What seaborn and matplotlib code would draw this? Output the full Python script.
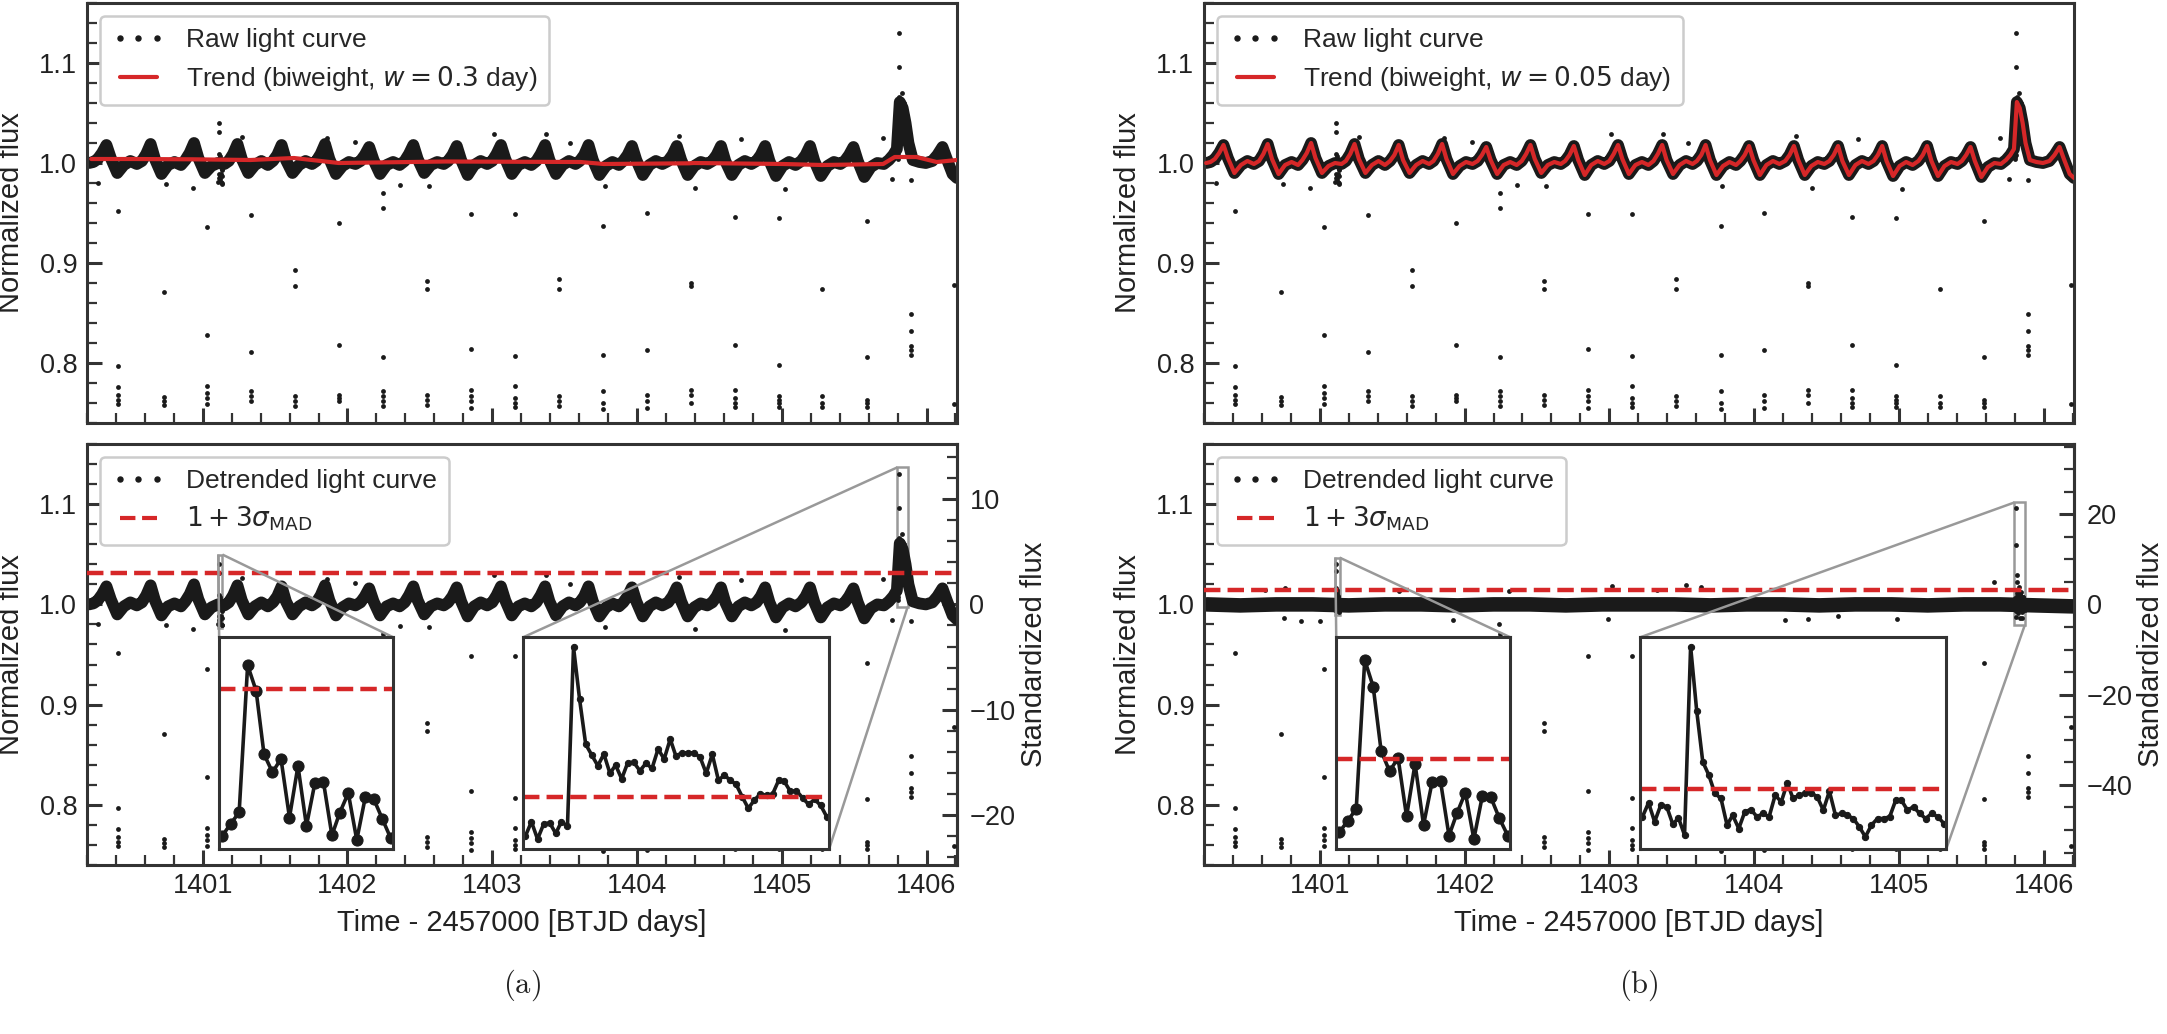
import matplotlib
matplotlib.use("Agg")
import matplotlib.pyplot as plt
from matplotlib.ticker import MultipleLocator
from matplotlib.lines import Line2D
from mpl_toolkits.axes_grid1.inset_locator import mark_inset
import seaborn as sns

# ---- raw light curve, band centre (read per modulation cycle) ----
band_t = [
    1400.215, 1400.245, 1400.275, 1400.305, 1400.335, 1400.365, 1400.410, 1400.455, 1400.500, 1400.545,
    1400.580, 1400.610, 1400.640, 1400.670, 1400.715, 1400.760, 1400.805, 1400.850,
    1400.880, 1400.910, 1400.940, 1400.970, 1401.015, 1401.060, 1401.105, 1401.150,
    1401.180, 1401.210, 1401.240, 1401.270, 1401.315, 1401.360, 1401.405, 1401.450,
    1401.485, 1401.515, 1401.545, 1401.575, 1401.620, 1401.665, 1401.710, 1401.755,
    1401.785, 1401.815, 1401.845, 1401.875, 1401.920, 1401.965, 1402.010, 1402.055,
    1402.090, 1402.120, 1402.150, 1402.180, 1402.225, 1402.270, 1402.315, 1402.360,
    1402.395, 1402.425, 1402.455, 1402.485, 1402.530, 1402.575, 1402.620, 1402.665,
    1402.695, 1402.725, 1402.755, 1402.785, 1402.830, 1402.875, 1402.920, 1402.965,
    1403.000, 1403.030, 1403.060, 1403.090, 1403.135, 1403.180, 1403.225, 1403.270,
    1403.305, 1403.335, 1403.365, 1403.395, 1403.440, 1403.485, 1403.530, 1403.575,
    1403.605, 1403.635, 1403.665, 1403.695, 1403.740, 1403.785, 1403.830, 1403.875,
    1403.905, 1403.935, 1403.965, 1403.995, 1404.040, 1404.085, 1404.130, 1404.175,
    1404.215, 1404.245, 1404.275, 1404.305, 1404.350, 1404.395, 1404.440, 1404.485,
    1404.520, 1404.550, 1404.580, 1404.610, 1404.655, 1404.700, 1404.745, 1404.790,
    1404.825, 1404.855, 1404.885, 1404.915, 1404.960, 1405.005, 1405.050, 1405.095,
    1405.135, 1405.165, 1405.195, 1405.225, 1405.270, 1405.315, 1405.360, 1405.405,
    1405.435, 1405.465, 1405.495, 1405.525, 1405.570, 1405.615, 1405.660, 1405.705,
    1405.740, 1405.770, 1405.795, 1405.815, 1405.835, 1405.855, 1405.875, 1405.905, 1405.950, 1405.995,
    1406.040, 1406.075, 1406.110, 1406.140, 1406.180, 1406.210,
]
band_f = [
    1.000, 1.001, 1.004, 1.010, 1.018, 1.005, 0.990, 0.998, 1.002, 0.999,
    1.002, 1.009, 1.019, 1.004, 0.989, 0.998, 1.001, 0.998,
    1.003, 1.010, 1.020, 1.005, 0.990, 0.997, 1.000, 0.999,
    1.002, 1.009, 1.019, 1.004, 0.990, 0.998, 1.002, 0.998,
    1.002, 1.008, 1.018, 1.003, 0.990, 0.998, 1.002, 0.999,
    1.002, 1.009, 1.019, 1.004, 0.989, 0.997, 1.001, 0.999,
    1.002, 1.008, 1.016, 1.003, 0.989, 0.998, 1.001, 0.998,
    1.002, 1.009, 1.018, 1.004, 0.990, 0.998, 1.001, 0.999,
    1.002, 1.008, 1.017, 1.003, 0.988, 0.998, 1.002, 0.999,
    1.002, 1.009, 1.018, 1.004, 0.989, 0.998, 1.001, 0.998,
    1.002, 1.009, 1.018, 1.003, 0.989, 0.998, 1.002, 0.999,
    1.002, 1.008, 1.018, 1.003, 0.988, 0.997, 1.001, 0.998,
    1.002, 1.008, 1.017, 1.003, 0.988, 0.998, 1.002, 0.999,
    1.002, 1.008, 1.017, 1.003, 0.988, 0.997, 1.001, 0.999,
    1.002, 1.008, 1.017, 1.002, 0.988, 0.998, 1.002, 0.999,
    1.002, 1.008, 1.017, 1.002, 0.987, 0.997, 1.001, 0.998,
    1.002, 1.008, 1.017, 1.002, 0.987, 0.997, 1.001, 0.999,
    1.002, 1.008, 1.016, 1.002, 0.986, 0.996, 1.000, 0.999,
    1.003, 1.008, 1.014, 1.061, 1.055, 1.040, 1.020, 1.003, 1.001, 1.000,
    1.002, 1.008, 1.016, 1.004, 0.989, 0.985,
]

# scattered single points off the band
raw_out_t = [1400.28, 1400.745, 1400.93, 1401.27, 1401.86, 1402.05, 1402.36, 1402.56, 1403.01, 1403.37,
             1403.54, 1403.78, 1404.29, 1404.40, 1404.72, 1405.02, 1405.70, 1405.76, 1405.89]
raw_out_f = [0.980, 0.979, 0.975, 1.026, 1.025, 1.021, 0.978, 0.977, 1.029, 1.029,
             1.020, 0.977, 1.027, 0.975, 1.024, 0.974, 1.025, 0.984, 0.983]

# low-flux columns (one list of fluxes per time)
dip_t = [1400.417, 1400.731, 1401.031, 1401.333, 1401.635, 1401.940, 1402.242, 1402.550, 1402.852, 1403.157,
         1403.460, 1403.768, 1404.067, 1404.371, 1404.675, 1404.981, 1405.281, 1405.587, 1405.895, 1406.190]
dip_f = [
    [0.952, 0.797, 0.776, 0.768, 0.763, 0.759],
    [0.871, 0.766, 0.762, 0.758],
    [0.936, 0.828, 0.777, 0.770, 0.765, 0.759],
    [0.948, 0.811, 0.772, 0.767, 0.762],
    [0.893, 0.877, 0.767, 0.762, 0.757],
    [0.940, 0.818, 0.768, 0.765, 0.762],
    [0.970, 0.955, 0.806, 0.772, 0.767, 0.762, 0.757],
    [0.882, 0.874, 0.768, 0.763, 0.758],
    [0.949, 0.814, 0.773, 0.767, 0.762, 0.755],
    [0.949, 0.807, 0.777, 0.765, 0.760, 0.756],
    [0.884, 0.874, 0.767, 0.762, 0.757],
    [0.937, 0.808, 0.772, 0.760, 0.754],
    [0.950, 0.813, 0.768, 0.762, 0.755],
    [0.880, 0.877, 0.773, 0.768, 0.760],
    [0.946, 0.818, 0.773, 0.765, 0.760, 0.756],
    [0.945, 0.798, 0.767, 0.763, 0.760, 0.756],
    [0.874, 0.767, 0.760, 0.756],
    [0.942, 0.806, 0.763, 0.760, 0.756],
    [0.849, 0.832, 0.817, 0.813, 0.808],
    [0.878, 0.759],
]

# biweight trend, w = 0.3 day
trend03_t = [1400.23, 1400.52, 1400.93, 1401.33, 1401.63, 1401.94, 1402.68, 1403.61, 1403.77,
             1404.36, 1404.39, 1405.01, 1405.28, 1405.70, 1405.78, 1405.93, 1406.07, 1406.21]
trend03_f = [1.004, 1.004, 1.0037, 1.003, 1.005, 1.000, 1.0015, 1.001, 0.999,
             0.9997, 1.000, 0.999, 0.998, 0.999, 1.006, 1.006, 1.001, 1.003]

# detrended (w = 0.05 day) band and its stray points
flat_t = [1400.22, 1400.45, 1400.70, 1400.95, 1401.20, 1401.45, 1401.70, 1401.95, 1402.20, 1402.45,
          1402.70, 1402.95, 1403.20, 1403.45, 1403.70, 1403.95, 1404.20, 1404.45, 1404.70, 1404.95,
          1405.20, 1405.45, 1405.70, 1405.95, 1406.21]
flat_f = [1.000, 0.999, 1.000, 1.000, 0.999, 1.000, 1.000, 0.999, 1.000, 1.000,
          0.999, 1.000, 1.000, 1.000, 0.999, 1.000, 1.000, 0.999, 1.000, 1.000,
          0.999, 1.000, 1.000, 0.999, 0.998]
flat_out_t = [1400.62, 1400.75, 1400.76, 1400.87, 1401.00, 1401.55, 1401.92, 1402.24, 1402.31, 1402.99,
              1403.02, 1403.33, 1403.53, 1403.63, 1404.21, 1404.37, 1404.58, 1404.99, 1405.66, 1405.84]
flat_out_f = [1.014, 0.986, 1.016, 0.983, 0.983, 1.013, 0.984, 0.980, 1.013, 0.985,
              1.018, 1.014, 1.019, 1.017, 0.984, 0.985, 0.988, 0.985, 1.022, 0.986]

# zoomed flares (2-min cadence)
flare1_t = [1401.1080, 1401.1094, 1401.1108, 1401.1122, 1401.1136, 1401.1149, 1401.1163, 1401.1177,
            1401.1191, 1401.1205, 1401.1219, 1401.1233, 1401.1247, 1401.1261, 1401.1274, 1401.1288,
            1401.1302, 1401.1316, 1401.1330, 1401.1344, 1401.1358]
flare1_a = [0.9807, 0.9849, 0.9889, 1.0400, 1.0311, 1.0091, 1.0028, 1.0075, 0.9871, 1.0050, 0.9842,
            0.9992, 0.9995, 0.9809, 0.9888, 0.9956, 0.9793, 0.9941, 0.9935, 0.9867, 0.9799]
flare1_b = [0.9943, 0.9974, 1.0006, 1.0406, 1.0334, 1.0162, 1.0107, 1.0143, 0.9986, 1.0127, 0.9963,
            1.0077, 1.0080, 0.9934, 0.9994, 1.0050, 0.9925, 1.0041, 1.0037, 0.9981, 0.9934]

flare2_t = [1405.7990, 1405.8004, 1405.8018, 1405.8032, 1405.8046, 1405.8060, 1405.8073, 1405.8087,
            1405.8101, 1405.8115, 1405.8129, 1405.8143, 1405.8157, 1405.8171, 1405.8185, 1405.8198,
            1405.8212, 1405.8226, 1405.8240, 1405.8254, 1405.8268, 1405.8282, 1405.8296, 1405.8310,
            1405.8324, 1405.8337, 1405.8351, 1405.8365, 1405.8379, 1405.8393, 1405.8407, 1405.8421,
            1405.8435, 1405.8449, 1405.8462, 1405.8476, 1405.8490, 1405.8504, 1405.8518, 1405.8532,
            1405.8546, 1405.8560, 1405.8574, 1405.8587, 1405.8601, 1405.8615, 1405.8629, 1405.8643,
            1405.8657, 1405.8671, 1405.8685]
flare2_a = [1.0061, 1.0155, 1.0041, 1.0139, 1.0148, 1.0078, 1.0155, 1.0126, 1.1301, 1.0959,
            1.0665, 1.0593, 1.0523, 1.0600, 1.0473, 1.0527, 1.0437, 1.0543, 1.0545, 1.0490,
            1.0539, 1.0506, 1.0633, 1.0567, 1.0698, 1.0587, 1.0608, 1.0608, 1.0608, 1.0578,
            1.0473, 1.0598, 1.0429, 1.0460, 1.0429, 1.0400, 1.0319, 1.0243, 1.0297, 1.0339,
            1.0328, 1.0337, 1.0427, 1.0420, 1.0354, 1.0359, 1.0312, 1.0269, 1.0302, 1.0262, 1.0187]
flare2_b = [0.9979, 1.0060, 0.9950, 1.0046, 1.0037, 0.9935, 0.9973, 0.9873, 1.0963, 1.0592,
            1.0297, 1.0220, 1.0114, 1.0085, 0.9931, 0.9988, 0.9911, 1.0008, 1.0021, 0.9979,
            0.9998, 0.9979, 1.0104, 1.0065, 1.0175, 1.0085, 1.0104, 1.0114, 1.0118, 1.0094,
            1.0017, 1.0127, 0.9988, 0.9998, 0.9988, 0.9969, 0.9921, 0.9863, 0.9931, 0.9969,
            0.9969, 0.9979, 1.0075, 1.0075, 1.0017, 1.0037, 0.9998, 0.9969, 0.9998, 0.9979, 0.9940]

sigma_a, thr_a = 0.0105, 1.0317
sigma_b, thr_b = 0.0045, 1.0141
inset1_xlim = (1401.1075, 1401.1362)
inset2_xlim = (1405.7985, 1405.8690)
inset_ylims = {"a": [(0.976, 1.0497), (0.9973, 1.1367)], "b": [(0.9897, 1.0467), (0.979, 1.1017)]}

dips_t = [t for t, col in zip(dip_t, dip_f) for _ in col]
dips_f = [f for col in dip_f for f in col]

# ---- style ----
sns.set_theme(style="ticks")
plt.rcParams["font.family"] = ["Liberation Sans", "DejaVu Sans"]
plt.rcParams["mathtext.fontset"] = "dejavusans"
SPINE = "#333333"
RED = "#d62728"
TICK_FS, LABEL_FS, LEG_FS = 19.5, 21, 19

fig = plt.figure(figsize=(21.67, 10.34), dpi=100)
fig.patch.set_facecolor("white")


def style(ax, bottom):
    ax.set_xlim(1400.20, 1406.21)
    ax.set_ylim(0.74, 1.16)
    ax.xaxis.set_major_locator(MultipleLocator(1))
    ax.xaxis.set_minor_locator(MultipleLocator(0.2))
    ax.yaxis.set_major_locator(MultipleLocator(0.1))
    ax.yaxis.set_minor_locator(MultipleLocator(0.02))
    ax.tick_params(which="both", direction="in", top=False, right=False, color=SPINE,
                   labelsize=TICK_FS, labelcolor="#222222")
    ax.tick_params(which="major", length=11, width=2.2)
    ax.tick_params(which="minor", length=7, width=1.6)
    ax.tick_params(axis="x", pad=6)
    ax.tick_params(axis="y", pad=7)
    for sp in ax.spines.values():
        sp.set_color(SPINE)
        sp.set_linewidth(2.2)
    ax.set_ylabel("Normalized flux", fontsize=LABEL_FS, color="#222222", labelpad=10)
    if bottom:
        ax.set_xlabel("Time - 2457000 [BTJD days]", fontsize=LABEL_FS, color="#222222", labelpad=7)
    else:
        ax.tick_params(axis="x", labelbottom=False)
    ax.set_facecolor("white")


def dots(ax, t, f):
    sns.scatterplot(x=t, y=f, ax=ax, color="k", s=12, linewidth=0, zorder=3)


def band(ax, t, f, lw):
    sns.lineplot(x=t, y=f, ax=ax, color="k", lw=lw, estimator=None, sort=False,
                 solid_joinstyle="round", solid_capstyle="round", zorder=2)


def legend(ax, second, dashed):
    h1 = Line2D([], [], ls="none", marker="o", ms=3.6, color="k")
    h2 = Line2D([], [], color=RED, lw=3, ls="--" if dashed else "-")
    first = "Detrended light curve" if dashed else "Raw light curve"
    leg = ax.legend([h1, h2], [first, second], loc="upper left", numpoints=3, fontsize=LEG_FS,
                    frameon=True, fancybox=True, edgecolor="#cccccc", framealpha=1,
                    borderpad=0.45, handletextpad=0.8, labelspacing=0.45)
    leg.get_frame().set_linewidth(1.8)
    leg.set_zorder(10)


def inset(ax, bounds, t, f, xlim, ylim, thr, ms, loc1, loc2):
    ins = ax.inset_axes(bounds)
    sns.lineplot(x=t, y=f, ax=ins, color="k", lw=2.6, marker="o", markersize=ms,
                 markeredgecolor="k", estimator=None, sort=False)
    ins.axhline(thr, color=RED, ls="--", lw=3.2)
    ins.set_xlim(*xlim)
    ins.set_ylim(*ylim)
    ins.set_xticks([])
    ins.set_yticks([])
    ins.set_xlabel("")
    ins.set_ylabel("")
    ins.set_facecolor("white")
    for sp in ins.spines.values():
        sp.set_color(SPINE)
        sp.set_linewidth(2.2)
    mark_inset(ax, ins, loc1=loc1, loc2=loc2, ec="0.6", lw=1.8)


panels = {"a": 0.0401, "b": 0.5556}
W = 0.4015
for key, x0 in panels.items():
    top = fig.add_axes([x0, 0.5909, W, 0.4062])
    bot = fig.add_axes([x0, 0.1634, W, 0.4072])

    # top: raw light curve + trend
    band(top, band_t, band_f, 8.5)
    dots(top, raw_out_t + dips_t + flare1_t + flare2_t, raw_out_f + dips_f + flare1_a + flare2_a)
    if key == "a":
        sns.lineplot(x=trend03_t, y=trend03_f, ax=top, color=RED, lw=3, estimator=None, sort=False, zorder=4)
        legend(top, "Trend (biweight, $w = 0.3$ day)", False)
    else:
        sns.lineplot(x=band_t, y=band_f, ax=top, color=RED, lw=3, estimator=None, sort=False, zorder=4)
        legend(top, "Trend (biweight, $w = 0.05$ day)", False)
    style(top, False)

    # bottom: detrended light curve
    if key == "a":
        band(bot, band_t, band_f, 8.5)
        dots(bot, raw_out_t + dips_t + flare1_t + flare2_t, raw_out_f + dips_f + flare1_a + flare2_a)
        sigma, thr, f1, f2 = sigma_a, thr_a, flare1_a, flare2_a
    else:
        band(bot, flat_t, flat_f, 10.5)
        dots(bot, flat_out_t + dips_t + flare1_t + flare2_t, flat_out_f + dips_f + flare1_b + flare2_b)
        sigma, thr, f1, f2 = sigma_b, thr_b, flare1_b, flare2_b
    bot.axhline(thr, color=RED, ls="--", lw=3.2, zorder=4)
    legend(bot, r"$1 + 3\sigma_{\mathrm{MAD}}$", True)
    style(bot, True)

    sec = bot.secondary_yaxis("right", functions=(lambda f, s=sigma: (f - 1) / s,
                                                  lambda z, s=sigma: 1 + z * s))
    step = 10 if key == "a" else 20
    sec.yaxis.set_major_locator(MultipleLocator(step))
    sec.yaxis.set_minor_locator(MultipleLocator(2 if key == "a" else 5))
    sec.tick_params(which="both", direction="in", color=SPINE, labelsize=TICK_FS,
                    labelcolor="#222222", pad=9)
    sec.tick_params(which="major", length=11, width=2.2)
    sec.tick_params(which="minor", length=7, width=1.6)
    sec.spines["right"].set_color(SPINE)
    sec.spines["right"].set_linewidth(2.2)
    sec.set_ylabel("Standardized flux", fontsize=LABEL_FS, color="#222222", labelpad=3)

    ylims = inset_ylims[key]
    inset(bot, [0.152, 0.037, 0.2, 0.504], flare1_t, f1, inset1_xlim, ylims[0], thr, 8, 2, 1)
    inset(bot, [0.5015, 0.037, 0.3514, 0.504], flare2_t, f2, inset2_xlim, ylims[1], thr, 4.5, 2, 4)

    fig.text(x0 + W / 2, 0.047, r"$\mathrm{(%s)}$" % key, ha="center", va="center",
             fontsize=22, math_fontfamily="cm", color="#222222")

fig.savefig("out.png", dpi=100, facecolor="white")
